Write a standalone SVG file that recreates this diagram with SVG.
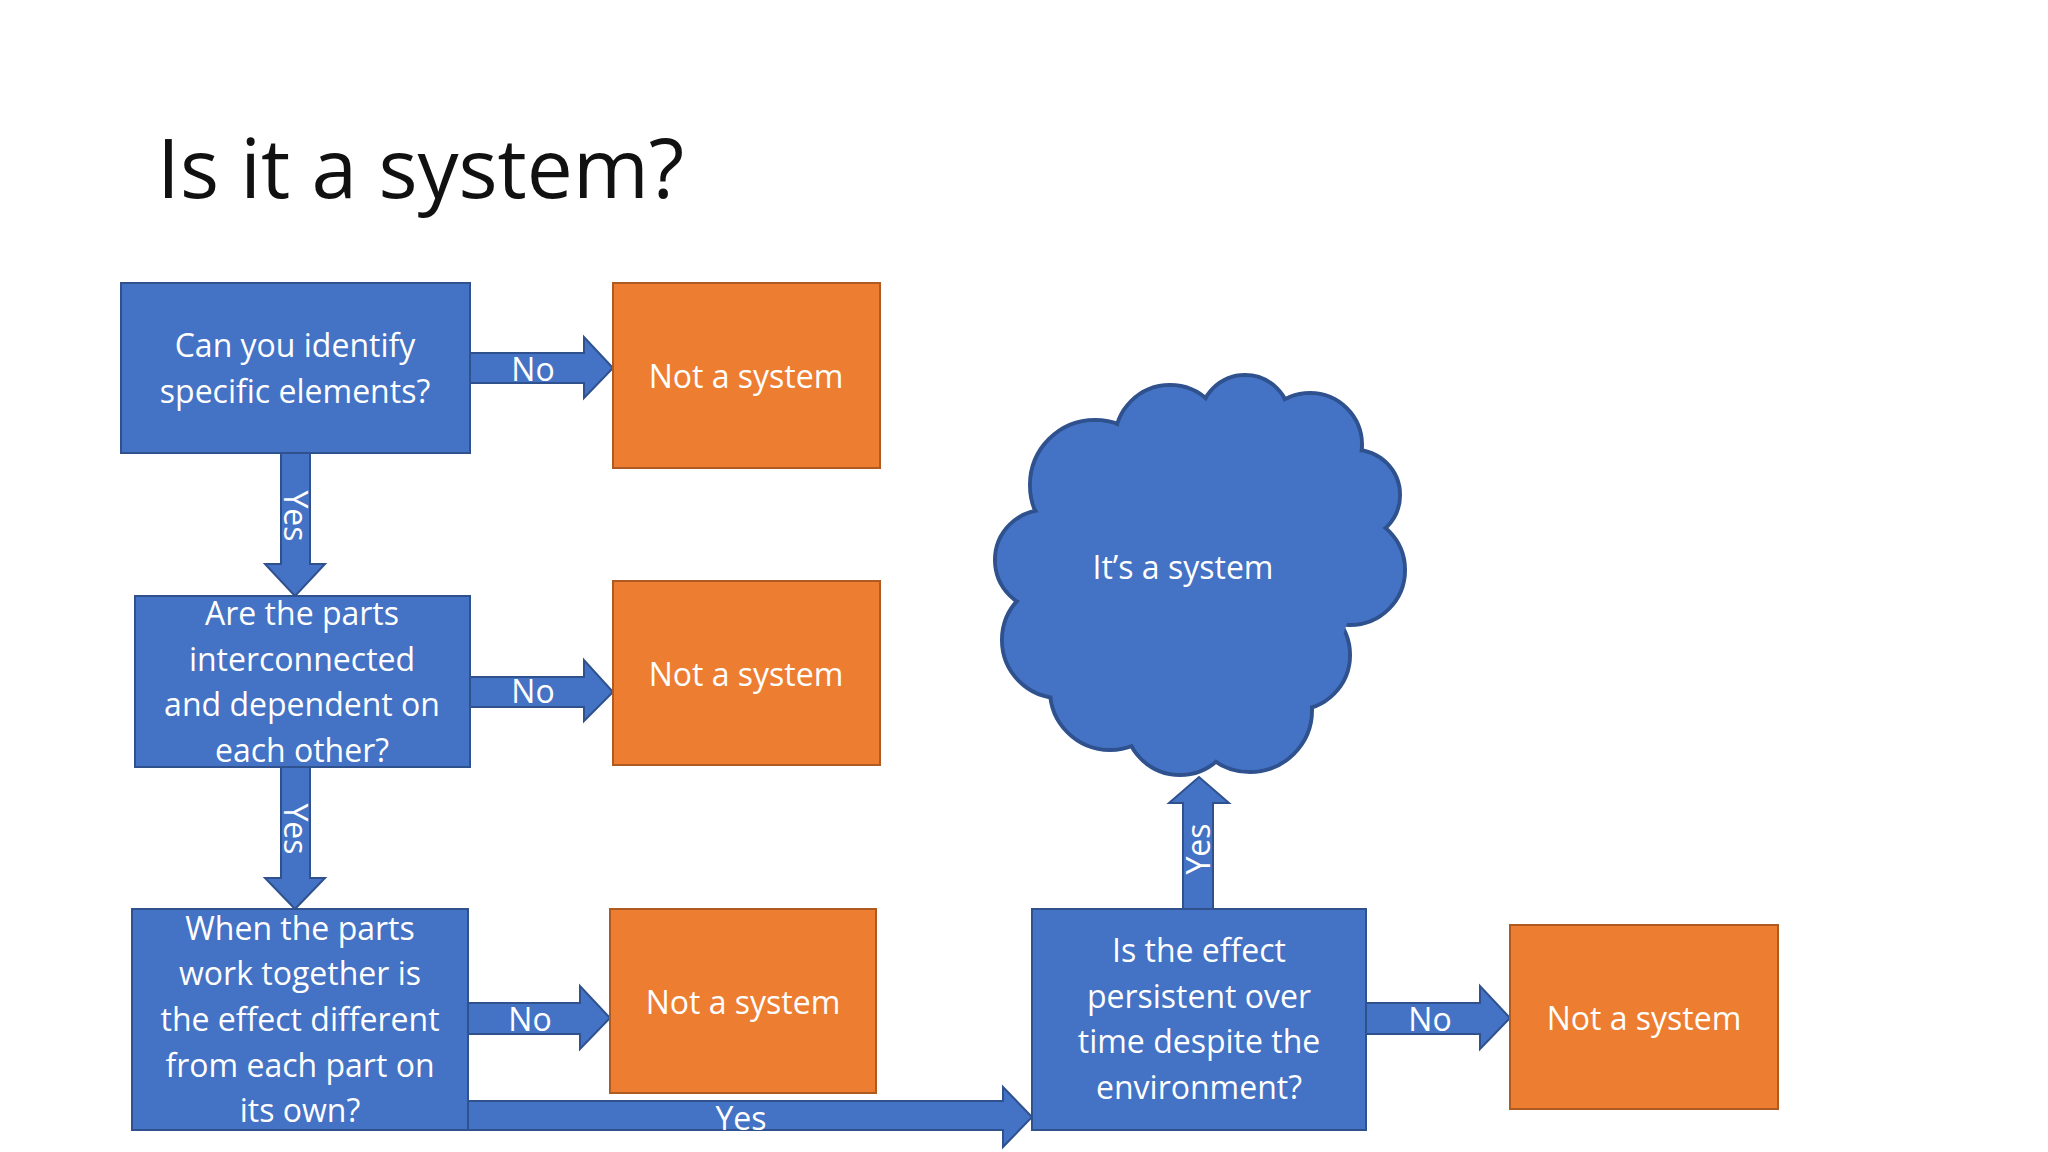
<svg xmlns="http://www.w3.org/2000/svg" width="2048" height="1152" viewBox="0 0 2048 1152">
<style>
.b{fill:#4472C4;stroke:#2F528F;stroke-width:2}
.o{fill:#ED7D31;stroke:#AE5A21;stroke-width:2}
.t{font-family:"Open Sans","Liberation Sans",sans-serif;font-size:32px;fill:#fff;text-anchor:middle}
.c{fill:#4472C4;stroke:none}
</style>
<rect width="2048" height="1152" fill="#fff"/>
<text x="157" y="198" font-family="Open Sans, Liberation Sans, sans-serif" font-size="82" fill="#111">Is it a system?</text>
<g id="connectors">
<polygon class="b" points="470,353 584,353 584,337 613,368 584,398 584,383 470,383"/>
<text class="t" x="533" y="381">No</text>
<polygon class="b" points="281,453 310,453 310,564 325,564 295,596 265,564 281,564"/>
<text class="t" transform="translate(284,516) rotate(90)" y="0">Yes</text>
<polygon class="b" points="470,677 584,677 584,660 613,692 584,721 584,707 470,707"/>
<text class="t" x="533" y="703">No</text>
<polygon class="b" points="281,767 310,767 310,878 325,878 295,909 265,878 281,878"/>
<text class="t" transform="translate(284,829) rotate(90)">Yes</text>
<polygon class="b" points="468,1003 580,1003 580,986 610,1018 580,1049 580,1034 468,1034"/>
<text class="t" x="530" y="1031">No</text>
<polygon class="b" points="468,1101 1003,1101 1003,1087 1032,1117 1003,1147 1003,1130 468,1130"/>
<text class="t" x="741" y="1130">Yes</text>
<polygon class="b" points="1366,1003 1480,1003 1480,986 1510,1018 1480,1049 1480,1034 1366,1034"/>
<text class="t" x="1430" y="1031">No</text>
<polygon class="b" points="1183,909 1183,803 1169,803 1199,777 1229,803 1213,803 1213,909"/>
<text class="t" transform="translate(1210,849) rotate(-90)">Yes</text>
</g>
<g id="q1"><rect class="b" x="121" y="283" width="349" height="170"/>
<text class="t" x="295" y="357">Can you identify</text><text class="t" x="295" y="403">specific elements?</text></g>
<g id="n1"><rect class="o" x="613" y="283" width="267" height="185"/><text class="t" x="746" y="388">Not a system</text></g>
<g id="q2"><rect class="b" x="135" y="596" width="335" height="171"/>
<text class="t" x="302" y="625">Are the parts</text><text class="t" x="302" y="671">interconnected</text><text class="t" x="302" y="716">and dependent on</text><text class="t" x="302" y="762">each other?</text></g>
<g id="n2"><rect class="o" x="613" y="581" width="267" height="184"/><text class="t" x="746" y="686">Not a system</text></g>
<g id="q3"><rect class="b" x="132" y="909" width="336" height="221"/>
<text class="t" x="300" y="940">When the parts</text><text class="t" x="300" y="985">work together is</text><text class="t" x="300" y="1031">the effect different</text><text class="t" x="300" y="1077">from each part on</text><text class="t" x="300" y="1122">its own?</text></g>
<g id="n3"><rect class="o" x="610" y="909" width="266" height="184"/><text class="t" x="743" y="1014">Not a system</text></g>
<g id="q4"><rect class="b" x="1032" y="909" width="334" height="221"/>
<text class="t" x="1199" y="962">Is the effect</text><text class="t" x="1199" y="1008">persistent over</text><text class="t" x="1199" y="1053">time despite the</text><text class="t" x="1199" y="1099">environment?</text></g>
<g id="n4"><rect class="o" x="1510" y="925" width="268" height="184"/><text class="t" x="1644" y="1030">Not a system</text></g>
<g id="cloud">
<g fill="#4472C4" stroke="#2F528F" stroke-width="4">
<circle cx="1095" cy="485" r="65"/><circle cx="1170" cy="440" r="55"/><circle cx="1245" cy="420" r="45"/><circle cx="1310" cy="445" r="52"/><circle cx="1355" cy="495" r="45"/><circle cx="1350" cy="570" r="55"/><circle cx="1295" cy="655" r="55"/><circle cx="1250" cy="710" r="62"/><circle cx="1180" cy="720" r="55"/><circle cx="1110" cy="690" r="60"/><circle cx="1060" cy="640" r="58"/><circle cx="1045" cy="560" r="50"/>
</g>
<g class="c">
<circle cx="1095" cy="485" r="63"/><circle cx="1170" cy="440" r="53"/><circle cx="1245" cy="420" r="43"/><circle cx="1310" cy="445" r="50"/><circle cx="1355" cy="495" r="43"/><circle cx="1350" cy="570" r="53"/><circle cx="1295" cy="655" r="53"/><circle cx="1250" cy="710" r="60"/><circle cx="1180" cy="720" r="53"/><circle cx="1110" cy="690" r="58"/><circle cx="1060" cy="640" r="56"/><circle cx="1045" cy="560" r="48"/>
<circle cx="1200" cy="575" r="155"/>
</g>
<text class="t" x="1183" y="579">It’s a system</text>
</g>
</svg>
